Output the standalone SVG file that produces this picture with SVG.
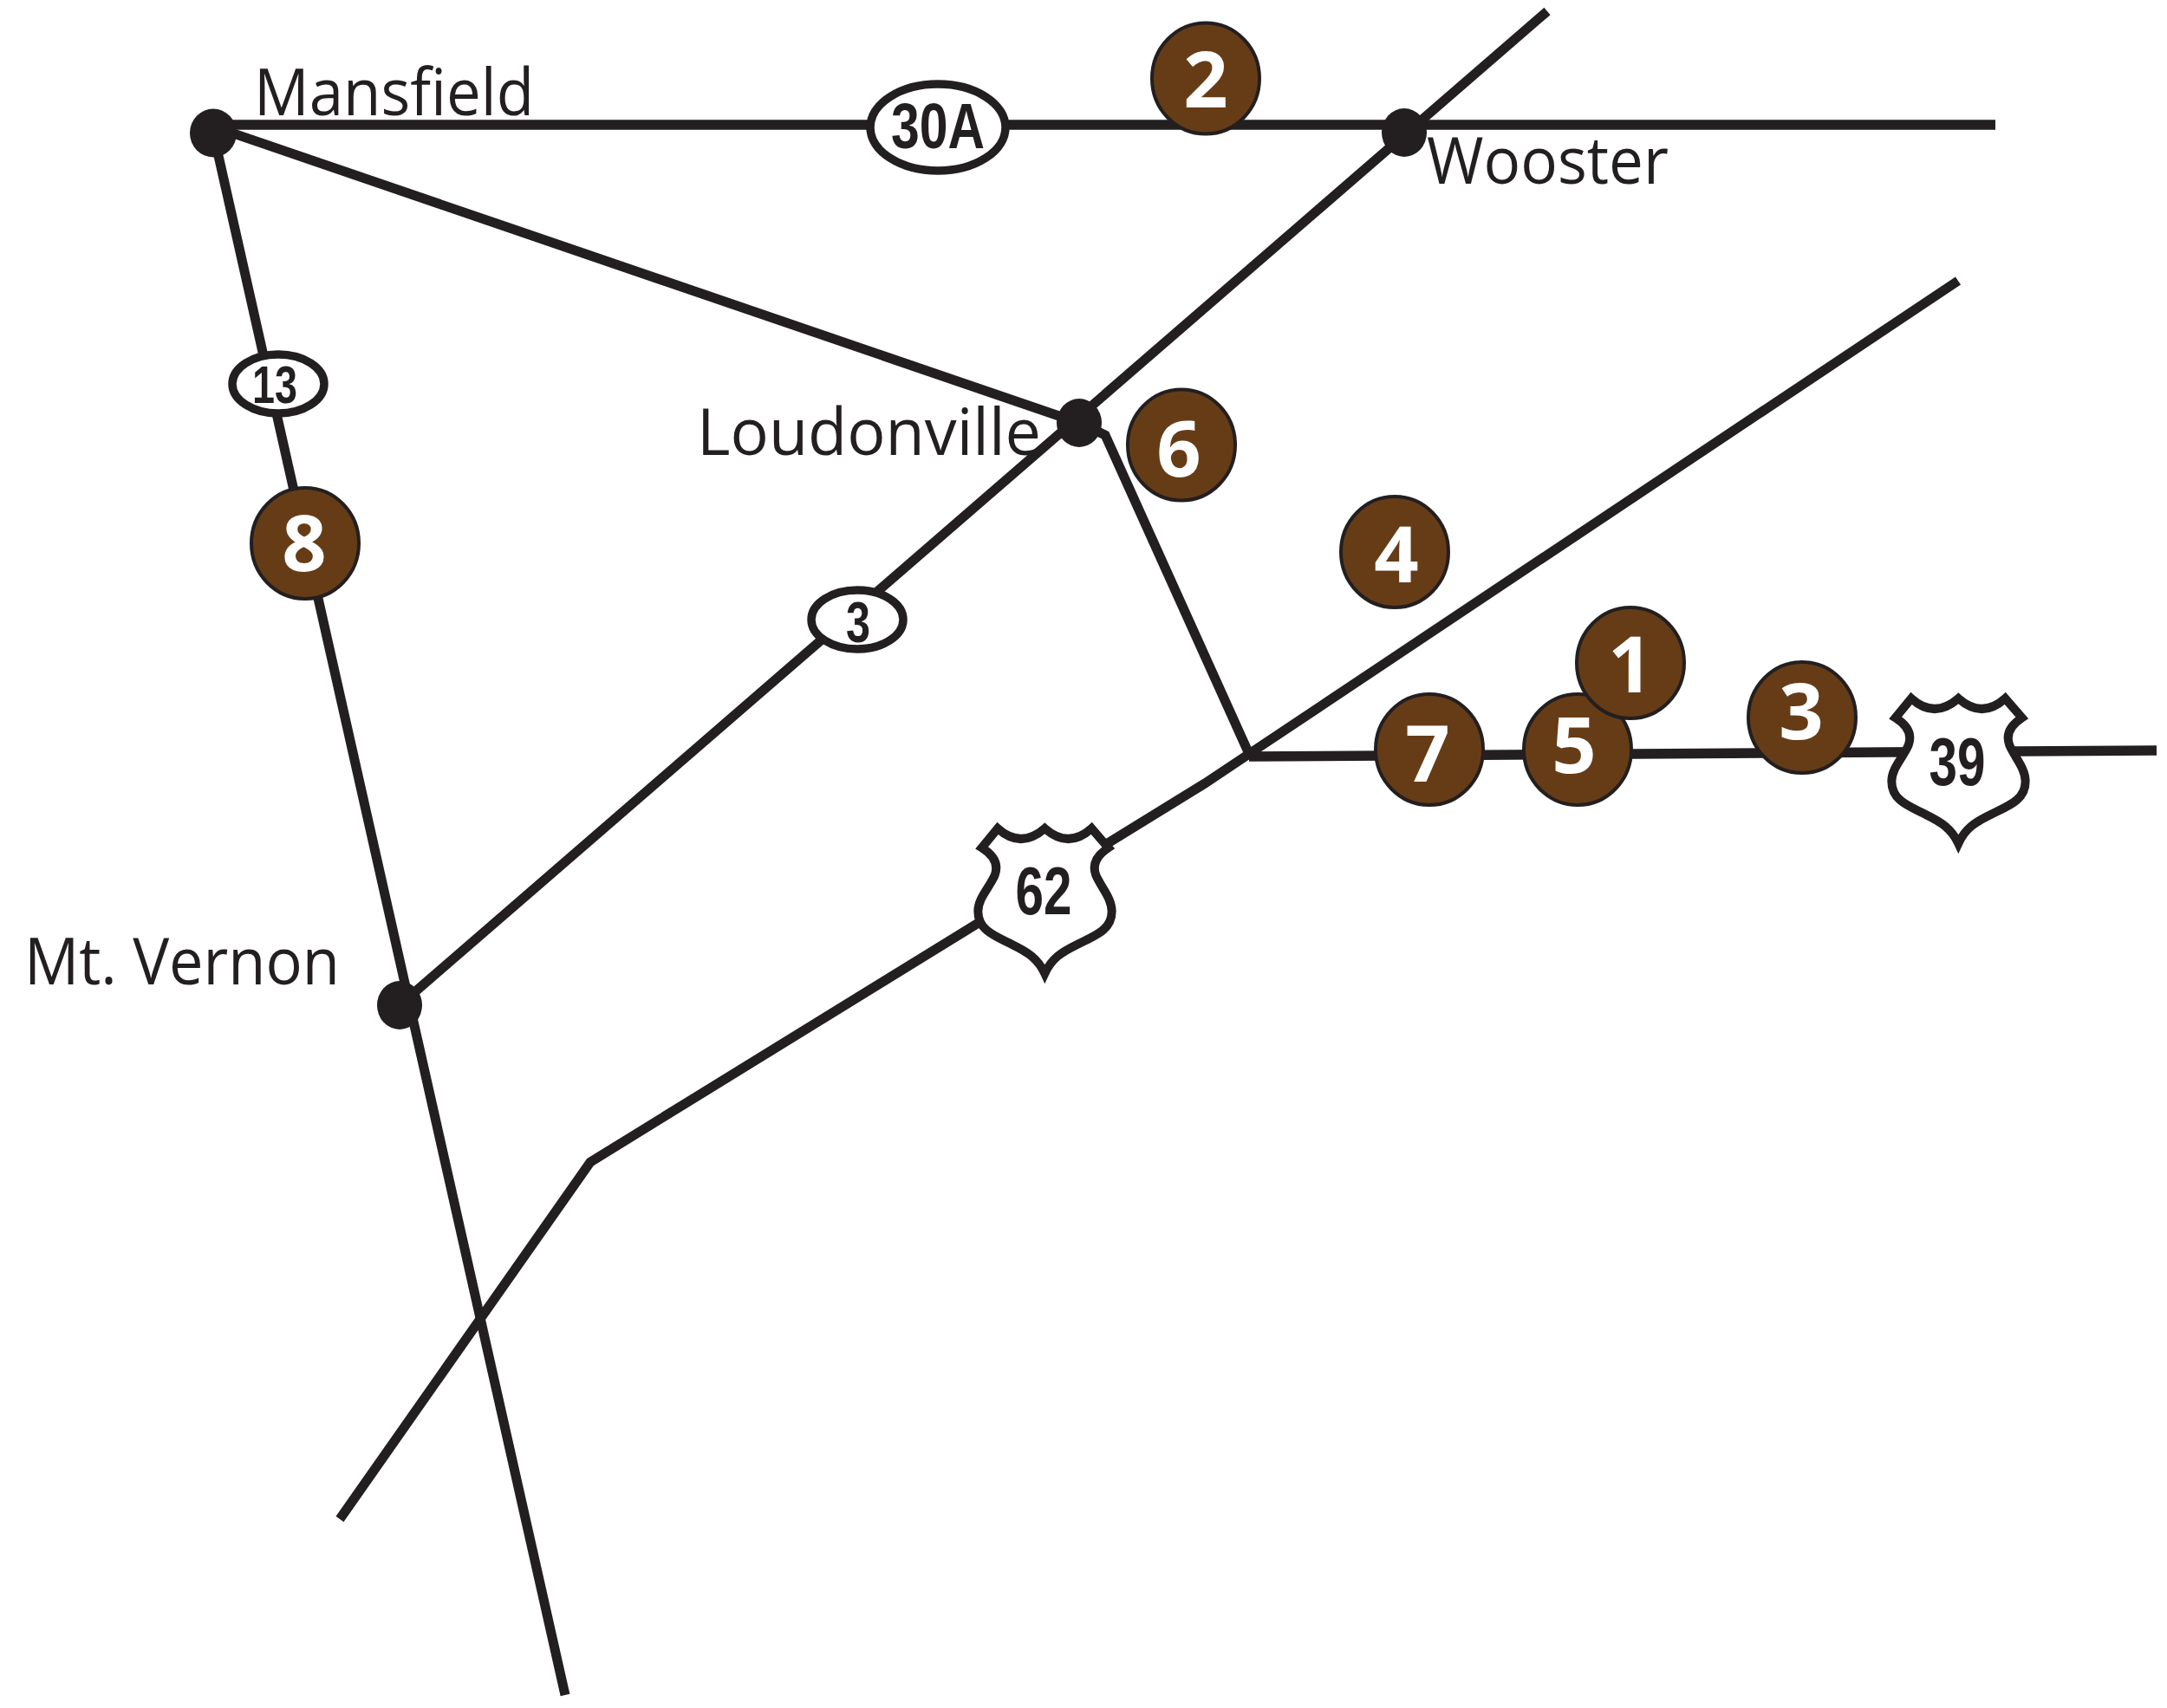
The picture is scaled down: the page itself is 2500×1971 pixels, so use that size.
<svg xmlns="http://www.w3.org/2000/svg" width="2500" height="1971" viewBox="0 0 2500 1971">
<style>
.road{fill:none;stroke:#231f20;stroke-width:11;stroke-linejoin:miter}
.wide{stroke-width:11.5}
.dot{fill:#231f20}
.city{font-family:"Open Sans","Noto Sans",sans-serif;font-size:75px;fill:#231f20}
.badge{fill:#663c17;stroke:#231f20;stroke-width:4}
.num{font-family:"Open Sans","Liberation Sans",sans-serif;font-weight:700;font-size:90px;fill:#fff;text-anchor:middle}
.oval{fill:#fff;stroke:#231f20;stroke-width:9.5}
.route{font-family:"Liberation Sans",sans-serif;font-weight:700;fill:#231f20;text-anchor:middle}
.shield{fill:#fff;stroke:#231f20;stroke-width:30;stroke-miterlimit:20}
</style>
<defs>
<path id="shield" class="shield" d="M165 78Q245 150 328 78Q410 150 490 78L548 145C510 170 490 200 505 240C525 285 560 320 560 365C560 430 500 450 440 480C385 507 352 528 328 580C304 528 270 507 215 480C155 450 97 430 97 365C97 320 135 285 155 240C170 200 150 170 110 145Z"/>
</defs>
<rect width="2500" height="1971" fill="#fff"/>
<g id="connectors">
<path class="road wide" d="M246 144H2302"/>
<path class="road" d="M246 146L1245 488"/>
<path class="road" d="M246 153L652 1956"/>
<path class="road" d="M461 1160L1785 13"/>
<path class="road" d="M1245 488L1275 502L1441 870"/>
<path class="road" d="M2259 324L1441 870L1390 904L681 1341L392 1753"/>
<path class="road wide" d="M1441 873L2488 866"/>
</g>
<g id="mansfield"><ellipse class="dot" cx="246" cy="153.500" rx="27" ry="28"/><text class="city" x="293" y="133" textLength="323" lengthAdjust="spacingAndGlyphs">Mansfield</text></g>
<g id="wooster"><ellipse class="dot" cx="1620" cy="153" rx="26" ry="28"/><text class="city" x="1646" y="212" textLength="279" lengthAdjust="spacingAndGlyphs">Wooster</text></g>
<g id="loudonville"><text class="city" x="804" y="525" textLength="397" lengthAdjust="spacingAndGlyphs">Loudonville</text><ellipse class="dot" cx="1245" cy="488" rx="26" ry="28"/></g>
<g id="mt-vernon"><ellipse class="dot" cx="461" cy="1160" rx="26" ry="28"/><text class="city" x="28" y="1136" textLength="364" lengthAdjust="spacingAndGlyphs">Mt. Vernon</text></g>
<g id="route-30a"><ellipse class="oval" cx="1082" cy="147" rx="78" ry="50"/><text class="route" x="1082" y="171" font-size="74" textLength="108" lengthAdjust="spacingAndGlyphs">30A</text></g>
<g id="route-13"><ellipse class="oval" cx="321" cy="443" rx="53" ry="34"/><text class="route" x="317" y="465" font-size="62" textLength="52" lengthAdjust="spacingAndGlyphs">13</text></g>
<g id="route-3"><ellipse class="oval" cx="989" cy="715" rx="53" ry="34"/><text class="route" x="990" y="741" font-size="66" textLength="28" lengthAdjust="spacingAndGlyphs">3</text></g>
<g id="route-62"><use href="#shield" transform="translate(1096 930) scale(.3333)"/><text class="route" x="1204" y="1055" font-size="77" textLength="65" lengthAdjust="spacingAndGlyphs">62</text></g>
<g id="route-39"><use href="#shield" transform="translate(2150 780) scale(.3333)"/><text class="route" x="2258" y="906" font-size="77" textLength="65" lengthAdjust="spacingAndGlyphs">39</text></g>
<g id="stop-8"><ellipse class="badge" cx="352" cy="627" rx="62" ry="64"/><text class="num" x="351" y="659">8</text></g>
<g id="stop-2"><ellipse class="badge" cx="1391" cy="90.500" rx="62" ry="64"/><text class="num" x="1391" y="124">2</text></g>
<g id="stop-6"><ellipse class="badge" cx="1363" cy="513.500" rx="62" ry="64"/><text class="num" x="1360" y="550">6</text></g>
<g id="stop-4"><ellipse class="badge" cx="1609" cy="637" rx="62" ry="64"/><text class="num" x="1611" y="672">4</text></g>
<g id="stop-3"><ellipse class="badge" cx="2079" cy="828" rx="62" ry="64"/><text class="num" x="2078" y="853">3</text></g>
<g id="stop-7"><ellipse class="badge" cx="1649" cy="865" rx="62" ry="64"/><text class="num" x="1647" y="902">7</text></g>
<g id="stop-5"><ellipse class="badge" cx="1820" cy="865" rx="62" ry="64"/><text class="num" x="1816" y="892">5</text></g>
<g id="stop-1"><ellipse class="badge" cx="1881" cy="765" rx="62" ry="64"/><text class="num" x="1881" y="799">1</text></g>
</svg>
